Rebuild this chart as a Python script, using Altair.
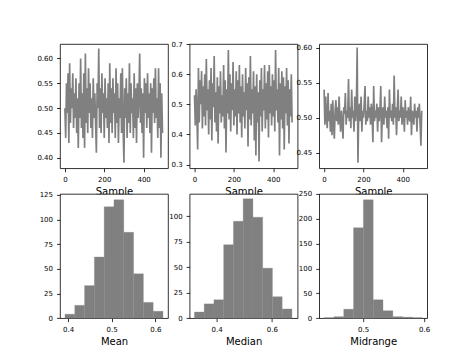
import altair as alt
import pandas as pd

STEP = 4  # samples between stored points

mean_vals = [0.50, 0.44, 0.55, 0.49, 0.57, 0.43, 0.59, 0.47, 0.54, 0.50,
             0.57, 0.46, 0.53, 0.48, 0.56, 0.45, 0.52, 0.42, 0.55, 0.48,
             0.60, 0.46, 0.53, 0.44, 0.57, 0.42, 0.61, 0.47, 0.54, 0.45,
             0.58, 0.49, 0.55, 0.46, 0.52, 0.44, 0.56, 0.48, 0.53, 0.47,
             0.41, 0.55, 0.50, 0.62, 0.46, 0.54, 0.45, 0.57, 0.49, 0.53,
             0.44, 0.56, 0.48, 0.52, 0.46, 0.55, 0.43, 0.59, 0.47, 0.54,
             0.45, 0.56, 0.49, 0.53, 0.44, 0.58, 0.47, 0.55, 0.43, 0.52,
             0.48, 0.57, 0.45, 0.58, 0.46, 0.39, 0.54, 0.48, 0.56, 0.44,
             0.53, 0.47, 0.59, 0.45, 0.55, 0.49, 0.52, 0.44, 0.57, 0.46,
             0.54, 0.43, 0.55, 0.48, 0.52, 0.61, 0.47, 0.54, 0.45, 0.53,
             0.40, 0.56, 0.49, 0.55, 0.46, 0.57, 0.48, 0.53, 0.45, 0.55,
             0.41, 0.54, 0.49, 0.56, 0.47, 0.58, 0.48, 0.52, 0.44, 0.58,
             0.46, 0.55, 0.40, 0.53, 0.45]

median_vals = [0.53, 0.43, 0.55, 0.47, 0.35, 0.62, 0.44, 0.58, 0.50, 0.61,
               0.42, 0.56, 0.46, 0.60, 0.43, 0.65, 0.48, 0.55, 0.40, 0.58,
               0.45, 0.62, 0.38, 0.57, 0.49, 0.66, 0.44, 0.54, 0.41, 0.59,
               0.37, 0.56, 0.47, 0.61, 0.44, 0.53, 0.46, 0.63, 0.42, 0.58,
               0.34, 0.55, 0.47, 0.68, 0.45, 0.60, 0.41, 0.57, 0.48, 0.64,
               0.43, 0.55, 0.46, 0.61, 0.40, 0.58, 0.47, 0.63, 0.44, 0.56,
               0.39, 0.60, 0.46, 0.54, 0.42, 0.62, 0.48, 0.57, 0.36, 0.59,
               0.45, 0.66, 0.43, 0.55, 0.47, 0.61, 0.38, 0.56, 0.33, 0.60,
               0.44, 0.54, 0.31, 0.58, 0.46, 0.62, 0.41, 0.55, 0.48, 0.63,
               0.42, 0.57, 0.45, 0.61, 0.39, 0.63, 0.47, 0.56, 0.43, 0.60,
               0.46, 0.58, 0.41, 0.68, 0.48, 0.55, 0.44, 0.62, 0.33, 0.57,
               0.45, 0.61, 0.42, 0.59, 0.35, 0.56, 0.47, 0.62, 0.43, 0.58,
               0.37, 0.55, 0.46, 0.60, 0.44]

midrange_vals = [0.54, 0.49, 0.53, 0.50, 0.485, 0.535, 0.495, 0.51, 0.48, 0.52,
                 0.475, 0.525, 0.49, 0.47, 0.51, 0.525, 0.495, 0.515, 0.49, 0.53,
                 0.50, 0.48, 0.51, 0.495, 0.47, 0.515, 0.505, 0.535, 0.49, 0.51,
                 0.50, 0.555, 0.495, 0.515, 0.485, 0.54, 0.50, 0.51, 0.48, 0.53,
                 0.495, 0.515, 0.60, 0.436, 0.51, 0.52, 0.495, 0.53, 0.48, 0.51,
                 0.50, 0.52, 0.545, 0.49, 0.51, 0.495, 0.53, 0.50, 0.515, 0.49,
                 0.52, 0.505, 0.465, 0.545, 0.495, 0.51, 0.50, 0.52, 0.48, 0.515,
                 0.495, 0.51, 0.545, 0.465, 0.505, 0.515, 0.49, 0.53, 0.50, 0.51,
                 0.485, 0.515, 0.47, 0.54, 0.50, 0.51, 0.495, 0.52, 0.49, 0.56,
                 0.50, 0.515, 0.475, 0.51, 0.54, 0.495, 0.51, 0.50, 0.53, 0.49,
                 0.515, 0.505, 0.48, 0.525, 0.50, 0.51, 0.49, 0.515, 0.50, 0.495,
                 0.53, 0.475, 0.51, 0.505, 0.49, 0.52, 0.50, 0.51, 0.48, 0.515,
                 0.50, 0.52, 0.49, 0.46, 0.51]

# histograms: bin range and counts (10 bins each)
mean_bin_range = (0.393, 0.6175)
mean_counts = [4, 13, 33, 62, 113, 120, 87, 45, 16, 7]
median_bin_range = (0.3195, 0.6725)
median_counts = [6, 14, 18, 72, 95, 117, 99, 49, 21, 9]
midrange_bin_range = (0.436, 0.597)
midrange_counts = [1, 3, 18, 182, 238, 37, 15, 3, 2, 1]

GRAY = "#808080"
W, H = 108, 124.25


def line_panel(vals, ydom, yticks, yfmt):
    df = pd.DataFrame({"Sample": [i * STEP for i in range(len(vals))], "v": vals})
    return alt.Chart(df).mark_line(color=GRAY, strokeWidth=1.7, clip=True).encode(
        x=alt.X("Sample:Q",
                scale=alt.Scale(domain=[-24.95, 523.95], nice=False, zero=False),
                axis=alt.Axis(values=[0, 200, 400], format="d", title="Sample")),
        y=alt.Y("v:Q",
                scale=alt.Scale(domain=ydom, nice=False, zero=False),
                axis=alt.Axis(values=yticks, format=yfmt, title=None)),
    ).properties(width=W, height=H)


def hist_panel(rng, counts, xdom, xticks, ymax, yticks, title):
    lo, hi = rng
    n = len(counts)
    w = (hi - lo) / n
    df = pd.DataFrame({
        "lo": [lo + i * w for i in range(n)],
        "hi": [lo + (i + 1) * w for i in range(n)],
        "n": counts,
    })
    return alt.Chart(df).mark_rect(color=GRAY, stroke=GRAY, strokeWidth=0.3).encode(
        x=alt.X("lo:Q",
                scale=alt.Scale(domain=xdom, nice=False, zero=False),
                axis=alt.Axis(values=xticks, format=".1f", title=title)),
        x2="hi:Q",
        y=alt.Y("n:Q",
                scale=alt.Scale(domain=[0, ymax], nice=False),
                axis=alt.Axis(values=yticks, format="d", title=None)),
        y2=alt.datum(0),
    ).properties(width=W, height=H)


p1 = line_panel(mean_vals, [0.379, 0.629], [0.40, 0.45, 0.50, 0.55, 0.60], ".2f")
p2 = line_panel(median_vals, [0.288, 0.700], [0.3, 0.4, 0.5, 0.6, 0.7], ".1f")
p3 = line_panel(midrange_vals, [0.428, 0.605], [0.45, 0.50, 0.55, 0.60], ".2f")
h1 = hist_panel(mean_bin_range, mean_counts, [0.3816, 0.629], [0.4, 0.5, 0.6],
                126, [0, 25, 50, 75, 100, 125], "Mean")
h2 = hist_panel(median_bin_range, median_counts, [0.302, 0.693], [0.4, 0.6],
                121.8, [0, 25, 50, 75, 100], "Median")
h3 = hist_panel(midrange_bin_range, midrange_counts, [0.428, 0.605], [0.5, 0.6],
                250, [0, 50, 100, 150, 200, 250], "Midrange")

chart = alt.concat(
    p1, p2, p3, h1, h2, h3,
    columns=3,
    spacing={"row": 24.9, "column": 21.6},
    bounds="flush",
).properties(
    padding={"left": 36, "top": 39, "right": 10, "bottom": 10},
    background="white",
).configure_view(
    stroke="black", strokeWidth=0.8, fill="white"
).configure_axis(
    labelFont="DejaVu Sans", labelFontSize=7, labelColor="black",
    titleFont="DejaVu Sans", titleFontSize=10, titleFontWeight="normal",
    titleColor="black", titlePadding=3.5,
    tickColor="black", tickSize=3.5, tickWidth=0.8,
    labelPadding=4, domain=False, grid=False,
)

chart.save("out.html", embed_options={"renderer": "svg", "actions": False})
